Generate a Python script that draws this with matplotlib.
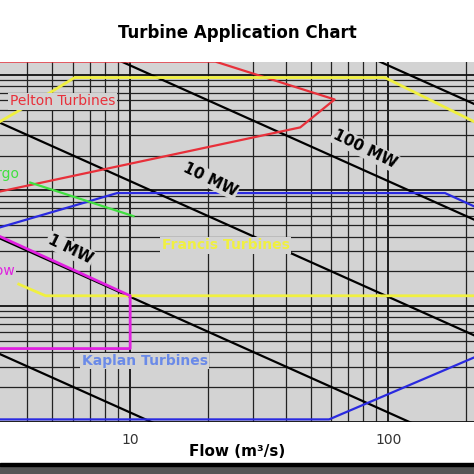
import numpy as np
import matplotlib.pyplot as plt
from matplotlib.patches import Rectangle
from matplotlib.ticker import FixedLocator, LogLocator, NullFormatter

# turbine envelopes, flow (m3/s) vs head (m)
pelton_q = [3.13, 21.4, 62, 45.6, 3.13]
pelton_h = [1300, 1300, 612, 351, 98]
francis_top_q = [3.13, 4.9, 6.1, 97, 215]
francis_top_h = [394, 703, 947, 947, 394]
francis_bot_q = [3.7, 4.7, 215]
francis_bot_h = [15.5, 12.3, 12.3]
kaplan_top_q = [3.13, 8.9, 166, 215]
kaplan_top_h = [48, 95, 95, 73]
kaplan_bot_q = [3.13, 59, 215]
kaplan_bot_h = [1.05, 1.05, 3.6]
turgo_q = [4.1, 10.3]
turgo_h = [117, 60]
cross_q = [3.13, 10, 10, 3.13]
cross_h = [40, 12.3, 4.3, 4.3]
power_mw = [0.1, 1, 10, 100, 1000]

fig = plt.figure(figsize=(4.74, 4.74), dpi=100)
ax = fig.add_axes([0, 0.11, 1, 0.76])
ax.set_facecolor('#d3d3d3')
ax.set_xscale('log')
ax.set_yscale('log')
ax.set_xlim(3.13, 215)
ax.set_ylim(1.0, 1300)

ax.xaxis.set_minor_locator(LogLocator(base=10, subs=np.arange(2, 10)))
ax.yaxis.set_minor_locator(LogLocator(base=10, subs=np.arange(2, 10)))
ax.grid(True, which='major', color='#111111', lw=1.3)
ax.grid(True, which='minor', color='#222222', lw=0.9)

q = np.logspace(np.log10(3.13), np.log10(215), 50)
for p in power_mw:
    ax.plot(q, p * 1000 / (8.3 * q), color='black', lw=1.6)

ax.plot(pelton_q, pelton_h, color='#e8303a', lw=1.6)
ax.plot(francis_top_q, francis_top_h, color='#f0f040', lw=2)
ax.plot(francis_bot_q, francis_bot_h, color='#f0f040', lw=2)
ax.plot(kaplan_top_q, kaplan_top_h, color='#2a2ae0', lw=1.6)
ax.plot(kaplan_bot_q, kaplan_bot_h, color='#2a2ae0', lw=1.6)
ax.plot(turgo_q, turgo_h, color='#40e040', lw=1.6)
ax.plot(cross_q, cross_h, color='#e020e0', lw=2)

box = dict(facecolor='#d3d3d3', edgecolor='none', pad=1)
ax.text(8.75, 590, 'Pelton Turbines', color='#e8303a', ha='right', va='center', fontsize=10, bbox=box)
ax.text(23.4, 33.5, 'Francis Turbines', color='#f0f040', ha='center', va='center', fontsize=10, fontweight='bold', bbox=box)
ax.text(11.4, 3.36, 'Kaplan Turbines', color='#6a8ae8', ha='center', va='center', fontsize=10, fontweight='bold', bbox=box)
ax.text(3.7, 139, 'Turgo', color='#40e040', ha='right', va='center', fontsize=10, bbox=box)
ax.text(3.58, 20.3, 'Crossflow', color='#e020e0', ha='right', va='center', fontsize=10, bbox=box)
for x, y, s in [(5.85, 31, '1 MW'), (20.4, 125, '10 MW'), (81, 228, '100 MW')]:
    ax.text(x, y, s, rotation=-26, ha='center', va='center', fontsize=11, fontweight='bold', bbox=box)

ax.xaxis.set_major_locator(FixedLocator([10, 100]))
ax.xaxis.set_major_formatter(plt.FuncFormatter(lambda v, _: f'{v:g}'))
ax.xaxis.set_minor_formatter(NullFormatter())
ax.tick_params(axis='x', which='both', length=0, labelsize=10, colors='#333333', pad=8)
ax.tick_params(axis='y', which='both', length=0, labelleft=False)
for s in ax.spines.values():
    s.set_visible(False)
ax.set_xlabel('Flow (m³/s)', fontsize=11, fontweight='bold', labelpad=-2)
fig.suptitle('Turbine Application Chart', y=0.95, fontsize=12, fontweight='bold')

fig.patches.append(Rectangle((0, 0), 1, 0.017, transform=fig.transFigure, color='#555555'))
fig.patches.append(Rectangle((0, 0.017), 1, 0.006, transform=fig.transFigure, color='black'))
fig.savefig('out.png', dpi=100)
